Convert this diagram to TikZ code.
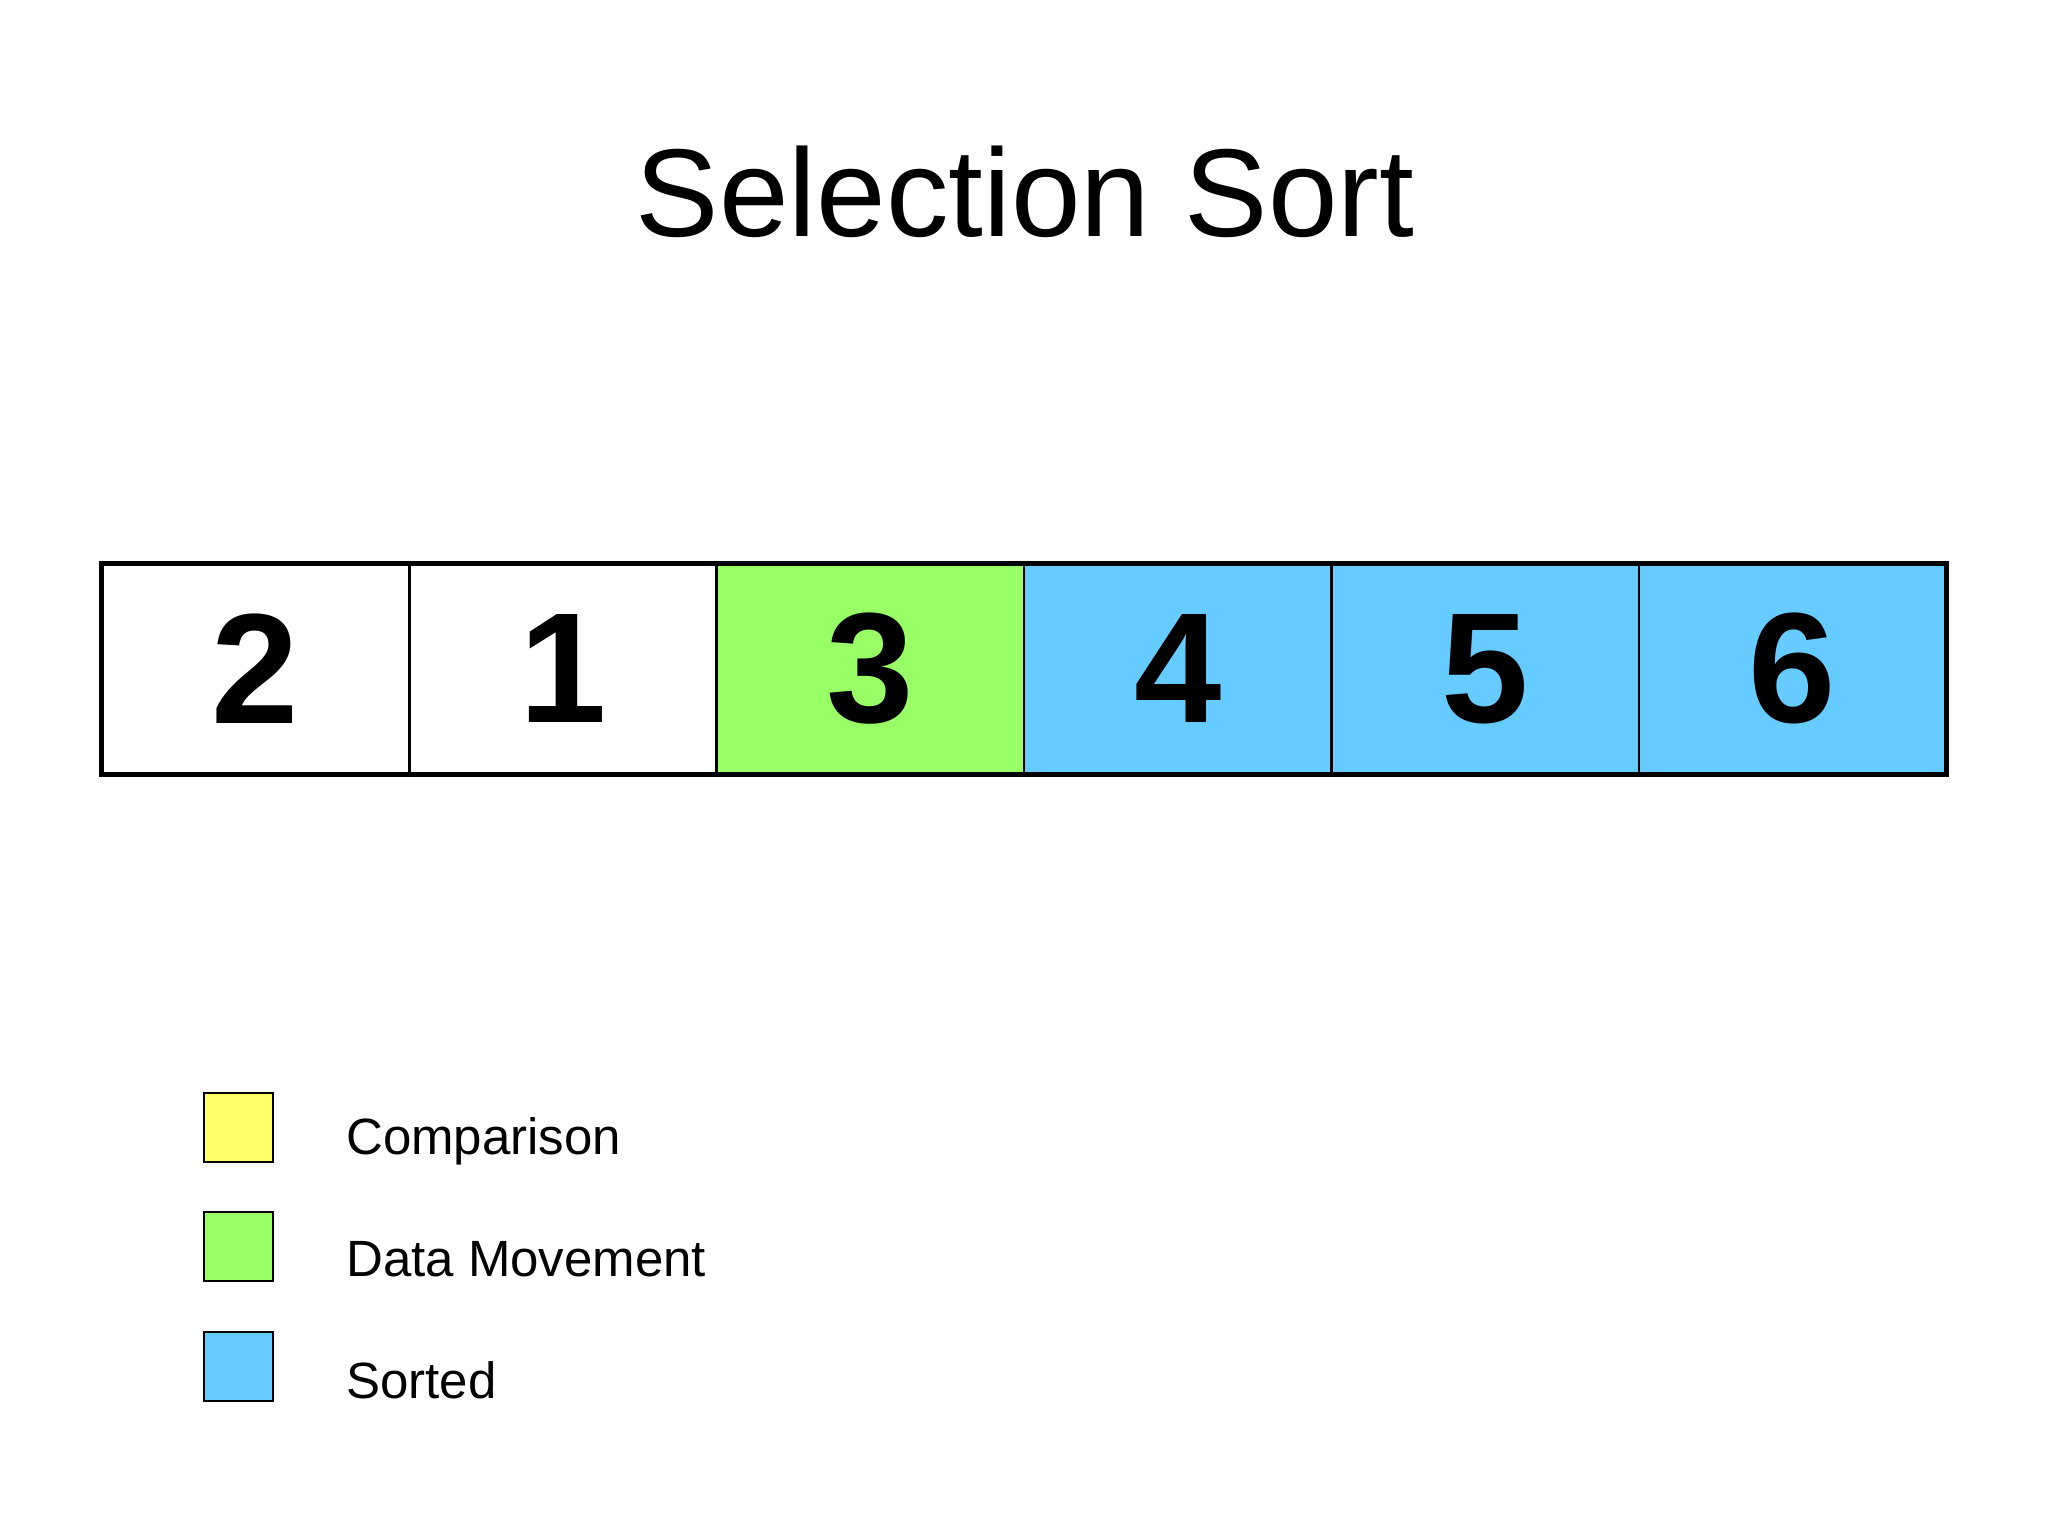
\documentclass[tikz,border=0pt]{standalone}
\usepackage{fontspec}
\setmainfont{Liberation Sans}
\usetikzlibrary{positioning}

\definecolor{cmpyellow}{HTML}{FFFF66}
\definecolor{movegreen}{HTML}{99FF66}
\definecolor{sortblue}{HTML}{66CCFF}

\begin{document}
\begin{tikzpicture}[x=1pt,y=-1pt,cell/.style={draw,rectangle,line width=2.6pt,minimum
width=307.4pt,minimum height=211.5pt,inner sep=0pt,outer sep=0pt,
font=\fontsize{157}{160}\selectfont\bfseries},key/.style={draw,rectangle,
line width=2pt,minimum size=69pt,inner sep=0pt,fill=#1},
lbl/.style={inner sep=0pt,font=\fontsize{51}{60}\selectfont}]
\fill[white] (0,0) rectangle (2048,1536);
\node[inner sep=0pt,anchor=base,font=\fontsize{125}{140}\selectfont] (title)
  at (1025,236) {Selection Sort};
% the array
\node[cell] (c1) at (255.6,668.8) {2};
\node[cell,right=0pt of c1] (c2) {1};
\node[cell,fill=movegreen,right=0pt of c2] (c3) {3};
\node[cell,fill=sortblue,right=0pt of c3] (c4) {4};
\node[cell,fill=sortblue,right=0pt of c4] (c5) {5};
\node[cell,fill=sortblue,right=0pt of c5] (c6) {6};
\draw[line width=5pt] (c1.north west) rectangle (c6.south east);
% legend
\foreach \clr/\txt [count=\i] in {cmpyellow/Comparison,movegreen/Data Movement,sortblue/Sorted}
{
  \node[key=\clr] (k\i) at (238.5,{1127+119.5*(\i-1)}) {};
  \node[lbl,anchor=base west] (t\i) at (346,{1154+122*(\i-1)}) {\txt};
}
\end{tikzpicture}
\end{document}
